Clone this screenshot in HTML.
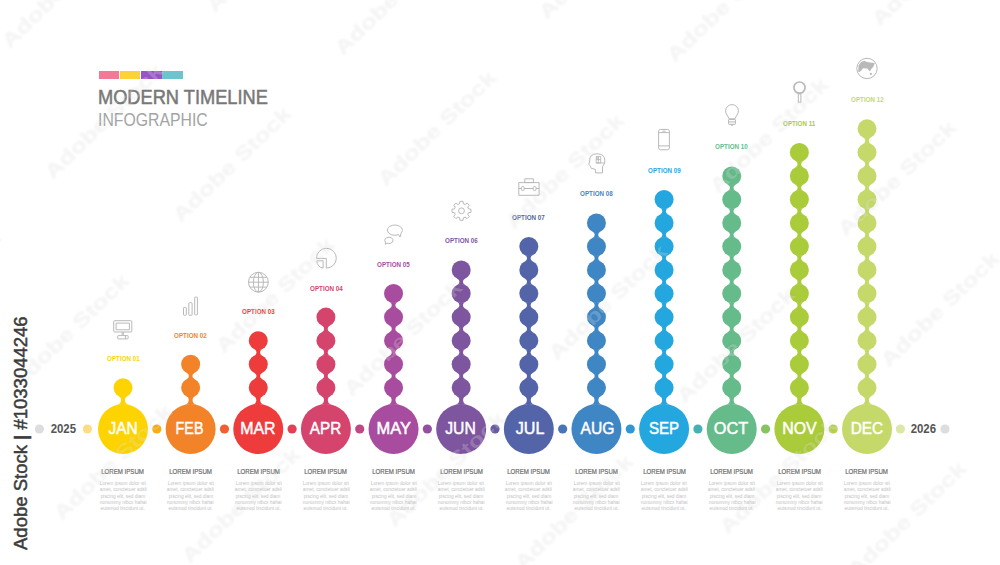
<!DOCTYPE html>
<html><head><meta charset="utf-8">
<style>
html,body{margin:0;padding:0;}
body{width:1000px;height:565px;overflow:hidden;background:#fff;position:relative;font-family:"Liberation Sans",sans-serif;}
svg{position:absolute;left:0;top:0;}
span{display:inline-block;transform-origin:50% 50%;white-space:nowrap;}
.c{position:absolute;width:100px;text-align:center;white-space:nowrap;}
.bar{position:absolute;top:71.3px;height:8px;width:20.2px;}
.t1{position:absolute;left:98px;top:84.6px;font-size:21px;line-height:24px;color:#787878;white-space:nowrap;-webkit-text-stroke:0.55px #787878;}
.t2{position:absolute;left:98px;top:108.5px;font-size:18.5px;line-height:22px;color:#a4a4a4;white-space:nowrap;}
.t1 span,.t2 span{transform-origin:0 50%;}
.mon{top:419px;color:#fff;font-size:17px;line-height:20px;-webkit-text-stroke:0.5px #fff;}
.opt{font-size:7.8px;line-height:10px;font-weight:bold;}
.lh{top:467px;font-size:7.3px;line-height:10px;color:#6a6a6a;-webkit-text-stroke:0.2px #6a6a6a;}
.lp{font-size:5.6px;line-height:6px;height:6px;color:#c2c2c2;}
.yr{position:absolute;top:422px;font-size:12px;line-height:14px;font-weight:bold;color:#555;}
.dw{position:absolute;font-size:20px;line-height:16px;font-weight:bold;white-space:nowrap;letter-spacing:0px;transform-origin:0 15.5px;transform:rotate(-44deg) scaleX(1.27);color:rgba(255,255,255,0.22);text-shadow:0 0 2.2px rgba(0,0,0,0.055);}
.wm{position:absolute;left:12.4px;top:549.8px;transform-origin:0 0;transform:rotate(-90deg) scaleX(1.052);white-space:nowrap;font-size:17.6px;line-height:18px;color:#3c3c3c;-webkit-text-stroke:0.5px #3c3c3c;}
</style></head><body>
<div class="bar" style="left:99.3px;background:#F27A96"></div>
<div class="bar" style="left:120.3px;background:#FDD13A"></div>
<div class="bar" style="left:141.4px;background:#9A54C5"></div>
<div class="bar" style="left:162.4px;background:#6DC4CE"></div>
<div class="t1"><span style="transform:scaleX(0.8680)">MODERN TIMELINE</span></div>
<div class="t2"><span style="transform:scaleX(0.8540)">INFOGRAPHIC</span></div>
<svg width="1000" height="565" viewBox="0 0 1000 565">
<circle cx="39.4" cy="429.0" r="4.6" fill="#DDDDDF"/>
<circle cx="87.4" cy="429.0" r="4.6" fill="#FCDC85"/>
<circle cx="900.4" cy="429.0" r="4.6" fill="#DCE8A8"/>
<circle cx="945" cy="429.0" r="4.6" fill="#DDDDDF"/>
<g fill="#FDD402"><circle cx="123.00" cy="429.0" r="25.0"/><path d="M118.60,396.12A4.56,4.56 0 0 1 117.49,404.61L128.51,404.61A4.56,4.56 0 0 1 127.40,396.12Z"/><circle cx="123.00" cy="387.70" r="9.5"/></g><circle cx="156.82" cy="429.0" r="4.6" fill="#F8AC16"/><g fill="#F28329"><circle cx="190.64" cy="429.0" r="25.0"/><path d="M186.24,396.12A4.56,4.56 0 0 1 185.13,404.61L196.14,404.61A4.56,4.56 0 0 1 195.04,396.12Z"/><circle cx="190.64" cy="387.70" r="9.5"/><circle cx="190.64" cy="364.17" r="9.5"/><path d="M186.89,372.90A3.31,3.31 0 0 1 186.89,378.97L194.39,378.97A3.31,3.31 0 0 1 194.39,372.90Z"/></g><circle cx="224.45" cy="429.0" r="4.6" fill="#F05F32"/><g fill="#EE3B3B"><circle cx="258.27" cy="429.0" r="25.0"/><path d="M253.87,396.12A4.56,4.56 0 0 1 252.77,404.61L263.78,404.61A4.56,4.56 0 0 1 262.67,396.12Z"/><circle cx="258.27" cy="387.70" r="9.5"/><circle cx="258.27" cy="364.17" r="9.5"/><path d="M254.52,372.90A3.31,3.31 0 0 1 254.52,378.97L262.02,378.97A3.31,3.31 0 0 1 262.02,372.90Z"/><circle cx="258.27" cy="340.64" r="9.5"/><path d="M254.52,349.37A3.31,3.31 0 0 1 254.52,355.44L262.02,355.44A3.31,3.31 0 0 1 262.02,349.37Z"/></g><circle cx="292.09" cy="429.0" r="4.6" fill="#E24054"/><g fill="#D5446C"><circle cx="325.91" cy="429.0" r="25.0"/><path d="M321.51,396.12A4.56,4.56 0 0 1 320.40,404.61L331.42,404.61A4.56,4.56 0 0 1 330.31,396.12Z"/><circle cx="325.91" cy="387.70" r="9.5"/><circle cx="325.91" cy="364.17" r="9.5"/><path d="M322.16,372.90A3.31,3.31 0 0 1 322.16,378.97L329.66,378.97A3.31,3.31 0 0 1 329.66,372.90Z"/><circle cx="325.91" cy="340.64" r="9.5"/><path d="M322.16,349.37A3.31,3.31 0 0 1 322.16,355.44L329.66,355.44A3.31,3.31 0 0 1 329.66,349.37Z"/><circle cx="325.91" cy="317.11" r="9.5"/><path d="M322.16,325.84A3.31,3.31 0 0 1 322.16,331.91L329.66,331.91A3.31,3.31 0 0 1 329.66,325.84Z"/></g><circle cx="359.73" cy="429.0" r="4.6" fill="#BE4886"/><g fill="#A84C9F"><circle cx="393.55" cy="429.0" r="25.0"/><path d="M389.15,396.12A4.56,4.56 0 0 1 388.04,404.61L399.05,404.61A4.56,4.56 0 0 1 397.95,396.12Z"/><circle cx="393.55" cy="387.70" r="9.5"/><circle cx="393.55" cy="364.17" r="9.5"/><path d="M389.80,372.90A3.31,3.31 0 0 1 389.80,378.97L397.30,378.97A3.31,3.31 0 0 1 397.30,372.90Z"/><circle cx="393.55" cy="340.64" r="9.5"/><path d="M389.80,349.37A3.31,3.31 0 0 1 389.80,355.44L397.30,355.44A3.31,3.31 0 0 1 397.30,349.37Z"/><circle cx="393.55" cy="317.11" r="9.5"/><path d="M389.80,325.84A3.31,3.31 0 0 1 389.80,331.91L397.30,331.91A3.31,3.31 0 0 1 397.30,325.84Z"/><circle cx="393.55" cy="293.58" r="9.5"/><path d="M389.80,302.31A3.31,3.31 0 0 1 389.80,308.38L397.30,308.38A3.31,3.31 0 0 1 397.30,302.31Z"/></g><circle cx="427.36" cy="429.0" r="4.6" fill="#93509F"/><g fill="#7E559F"><circle cx="461.18" cy="429.0" r="25.0"/><path d="M456.78,396.12A4.56,4.56 0 0 1 455.67,404.61L466.69,404.61A4.56,4.56 0 0 1 465.58,396.12Z"/><circle cx="461.18" cy="387.70" r="9.5"/><circle cx="461.18" cy="364.17" r="9.5"/><path d="M457.43,372.90A3.31,3.31 0 0 1 457.43,378.97L464.93,378.97A3.31,3.31 0 0 1 464.93,372.90Z"/><circle cx="461.18" cy="340.64" r="9.5"/><path d="M457.43,349.37A3.31,3.31 0 0 1 457.43,355.44L464.93,355.44A3.31,3.31 0 0 1 464.93,349.37Z"/><circle cx="461.18" cy="317.11" r="9.5"/><path d="M457.43,325.84A3.31,3.31 0 0 1 457.43,331.91L464.93,331.91A3.31,3.31 0 0 1 464.93,325.84Z"/><circle cx="461.18" cy="293.58" r="9.5"/><path d="M457.43,302.31A3.31,3.31 0 0 1 457.43,308.38L464.93,308.38A3.31,3.31 0 0 1 464.93,302.31Z"/><circle cx="461.18" cy="270.05" r="9.5"/><path d="M457.43,278.78A3.31,3.31 0 0 1 457.43,284.85L464.93,284.85A3.31,3.31 0 0 1 464.93,278.78Z"/></g><circle cx="495.00" cy="429.0" r="4.6" fill="#685CA4"/><g fill="#5364A9"><circle cx="528.82" cy="429.0" r="25.0"/><path d="M524.42,396.12A4.56,4.56 0 0 1 523.31,404.61L534.33,404.61A4.56,4.56 0 0 1 533.22,396.12Z"/><circle cx="528.82" cy="387.70" r="9.5"/><circle cx="528.82" cy="364.17" r="9.5"/><path d="M525.07,372.90A3.31,3.31 0 0 1 525.07,378.97L532.57,378.97A3.31,3.31 0 0 1 532.57,372.90Z"/><circle cx="528.82" cy="340.64" r="9.5"/><path d="M525.07,349.37A3.31,3.31 0 0 1 525.07,355.44L532.57,355.44A3.31,3.31 0 0 1 532.57,349.37Z"/><circle cx="528.82" cy="317.11" r="9.5"/><path d="M525.07,325.84A3.31,3.31 0 0 1 525.07,331.91L532.57,331.91A3.31,3.31 0 0 1 532.57,325.84Z"/><circle cx="528.82" cy="293.58" r="9.5"/><path d="M525.07,302.31A3.31,3.31 0 0 1 525.07,308.38L532.57,308.38A3.31,3.31 0 0 1 532.57,302.31Z"/><circle cx="528.82" cy="270.05" r="9.5"/><path d="M525.07,278.78A3.31,3.31 0 0 1 525.07,284.85L532.57,284.85A3.31,3.31 0 0 1 532.57,278.78Z"/><circle cx="528.82" cy="246.52" r="9.5"/><path d="M525.07,255.25A3.31,3.31 0 0 1 525.07,261.32L532.57,261.32A3.31,3.31 0 0 1 532.57,255.25Z"/></g><circle cx="562.64" cy="429.0" r="4.6" fill="#4975B7"/><g fill="#3F86C5"><circle cx="596.45" cy="429.0" r="25.0"/><path d="M592.05,396.12A4.56,4.56 0 0 1 590.95,404.61L601.96,404.61A4.56,4.56 0 0 1 600.85,396.12Z"/><circle cx="596.45" cy="387.70" r="9.5"/><circle cx="596.45" cy="364.17" r="9.5"/><path d="M592.70,372.90A3.31,3.31 0 0 1 592.70,378.97L600.20,378.97A3.31,3.31 0 0 1 600.20,372.90Z"/><circle cx="596.45" cy="340.64" r="9.5"/><path d="M592.70,349.37A3.31,3.31 0 0 1 592.70,355.44L600.20,355.44A3.31,3.31 0 0 1 600.20,349.37Z"/><circle cx="596.45" cy="317.11" r="9.5"/><path d="M592.70,325.84A3.31,3.31 0 0 1 592.70,331.91L600.20,331.91A3.31,3.31 0 0 1 600.20,325.84Z"/><circle cx="596.45" cy="293.58" r="9.5"/><path d="M592.70,302.31A3.31,3.31 0 0 1 592.70,308.38L600.20,308.38A3.31,3.31 0 0 1 600.20,302.31Z"/><circle cx="596.45" cy="270.05" r="9.5"/><path d="M592.70,278.78A3.31,3.31 0 0 1 592.70,284.85L600.20,284.85A3.31,3.31 0 0 1 600.20,278.78Z"/><circle cx="596.45" cy="246.52" r="9.5"/><path d="M592.70,255.25A3.31,3.31 0 0 1 592.70,261.32L600.20,261.32A3.31,3.31 0 0 1 600.20,255.25Z"/><circle cx="596.45" cy="222.99" r="9.5"/><path d="M592.70,231.72A3.31,3.31 0 0 1 592.70,237.79L600.20,237.79A3.31,3.31 0 0 1 600.20,231.72Z"/></g><circle cx="630.27" cy="429.0" r="4.6" fill="#3296D2"/><g fill="#24A7DF"><circle cx="664.09" cy="429.0" r="25.0"/><path d="M659.69,396.12A4.56,4.56 0 0 1 658.58,404.61L669.60,404.61A4.56,4.56 0 0 1 668.49,396.12Z"/><circle cx="664.09" cy="387.70" r="9.5"/><circle cx="664.09" cy="364.17" r="9.5"/><path d="M660.34,372.90A3.31,3.31 0 0 1 660.34,378.97L667.84,378.97A3.31,3.31 0 0 1 667.84,372.90Z"/><circle cx="664.09" cy="340.64" r="9.5"/><path d="M660.34,349.37A3.31,3.31 0 0 1 660.34,355.44L667.84,355.44A3.31,3.31 0 0 1 667.84,349.37Z"/><circle cx="664.09" cy="317.11" r="9.5"/><path d="M660.34,325.84A3.31,3.31 0 0 1 660.34,331.91L667.84,331.91A3.31,3.31 0 0 1 667.84,325.84Z"/><circle cx="664.09" cy="293.58" r="9.5"/><path d="M660.34,302.31A3.31,3.31 0 0 1 660.34,308.38L667.84,308.38A3.31,3.31 0 0 1 667.84,302.31Z"/><circle cx="664.09" cy="270.05" r="9.5"/><path d="M660.34,278.78A3.31,3.31 0 0 1 660.34,284.85L667.84,284.85A3.31,3.31 0 0 1 667.84,278.78Z"/><circle cx="664.09" cy="246.52" r="9.5"/><path d="M660.34,255.25A3.31,3.31 0 0 1 660.34,261.32L667.84,261.32A3.31,3.31 0 0 1 667.84,255.25Z"/><circle cx="664.09" cy="222.99" r="9.5"/><path d="M660.34,231.72A3.31,3.31 0 0 1 660.34,237.79L667.84,237.79A3.31,3.31 0 0 1 667.84,231.72Z"/><circle cx="664.09" cy="199.46" r="9.5"/><path d="M660.34,208.19A3.31,3.31 0 0 1 660.34,214.26L667.84,214.26A3.31,3.31 0 0 1 667.84,208.19Z"/></g><circle cx="697.91" cy="429.0" r="4.6" fill="#45B1B5"/><g fill="#66BB8B"><circle cx="731.73" cy="429.0" r="25.0"/><path d="M727.33,396.12A4.56,4.56 0 0 1 726.22,404.61L737.23,404.61A4.56,4.56 0 0 1 736.13,396.12Z"/><circle cx="731.73" cy="387.70" r="9.5"/><circle cx="731.73" cy="364.17" r="9.5"/><path d="M727.98,372.90A3.31,3.31 0 0 1 727.98,378.97L735.48,378.97A3.31,3.31 0 0 1 735.48,372.90Z"/><circle cx="731.73" cy="340.64" r="9.5"/><path d="M727.98,349.37A3.31,3.31 0 0 1 727.98,355.44L735.48,355.44A3.31,3.31 0 0 1 735.48,349.37Z"/><circle cx="731.73" cy="317.11" r="9.5"/><path d="M727.98,325.84A3.31,3.31 0 0 1 727.98,331.91L735.48,331.91A3.31,3.31 0 0 1 735.48,325.84Z"/><circle cx="731.73" cy="293.58" r="9.5"/><path d="M727.98,302.31A3.31,3.31 0 0 1 727.98,308.38L735.48,308.38A3.31,3.31 0 0 1 735.48,302.31Z"/><circle cx="731.73" cy="270.05" r="9.5"/><path d="M727.98,278.78A3.31,3.31 0 0 1 727.98,284.85L735.48,284.85A3.31,3.31 0 0 1 735.48,278.78Z"/><circle cx="731.73" cy="246.52" r="9.5"/><path d="M727.98,255.25A3.31,3.31 0 0 1 727.98,261.32L735.48,261.32A3.31,3.31 0 0 1 735.48,255.25Z"/><circle cx="731.73" cy="222.99" r="9.5"/><path d="M727.98,231.72A3.31,3.31 0 0 1 727.98,237.79L735.48,237.79A3.31,3.31 0 0 1 735.48,231.72Z"/><circle cx="731.73" cy="199.46" r="9.5"/><path d="M727.98,208.19A3.31,3.31 0 0 1 727.98,214.26L735.48,214.26A3.31,3.31 0 0 1 735.48,208.19Z"/><circle cx="731.73" cy="175.93" r="9.5"/><path d="M727.98,184.66A3.31,3.31 0 0 1 727.98,190.73L735.48,190.73A3.31,3.31 0 0 1 735.48,184.66Z"/></g><circle cx="765.55" cy="429.0" r="4.6" fill="#88C362"/><g fill="#AACB3A"><circle cx="799.36" cy="429.0" r="25.0"/><path d="M794.96,396.12A4.56,4.56 0 0 1 793.86,404.61L804.87,404.61A4.56,4.56 0 0 1 803.76,396.12Z"/><circle cx="799.36" cy="387.70" r="9.5"/><circle cx="799.36" cy="364.17" r="9.5"/><path d="M795.61,372.90A3.31,3.31 0 0 1 795.61,378.97L803.11,378.97A3.31,3.31 0 0 1 803.11,372.90Z"/><circle cx="799.36" cy="340.64" r="9.5"/><path d="M795.61,349.37A3.31,3.31 0 0 1 795.61,355.44L803.11,355.44A3.31,3.31 0 0 1 803.11,349.37Z"/><circle cx="799.36" cy="317.11" r="9.5"/><path d="M795.61,325.84A3.31,3.31 0 0 1 795.61,331.91L803.11,331.91A3.31,3.31 0 0 1 803.11,325.84Z"/><circle cx="799.36" cy="293.58" r="9.5"/><path d="M795.61,302.31A3.31,3.31 0 0 1 795.61,308.38L803.11,308.38A3.31,3.31 0 0 1 803.11,302.31Z"/><circle cx="799.36" cy="270.05" r="9.5"/><path d="M795.61,278.78A3.31,3.31 0 0 1 795.61,284.85L803.11,284.85A3.31,3.31 0 0 1 803.11,278.78Z"/><circle cx="799.36" cy="246.52" r="9.5"/><path d="M795.61,255.25A3.31,3.31 0 0 1 795.61,261.32L803.11,261.32A3.31,3.31 0 0 1 803.11,255.25Z"/><circle cx="799.36" cy="222.99" r="9.5"/><path d="M795.61,231.72A3.31,3.31 0 0 1 795.61,237.79L803.11,237.79A3.31,3.31 0 0 1 803.11,231.72Z"/><circle cx="799.36" cy="199.46" r="9.5"/><path d="M795.61,208.19A3.31,3.31 0 0 1 795.61,214.26L803.11,214.26A3.31,3.31 0 0 1 803.11,208.19Z"/><circle cx="799.36" cy="175.93" r="9.5"/><path d="M795.61,184.66A3.31,3.31 0 0 1 795.61,190.73L803.11,190.73A3.31,3.31 0 0 1 803.11,184.66Z"/><circle cx="799.36" cy="152.40" r="9.5"/><path d="M795.61,161.13A3.31,3.31 0 0 1 795.61,167.20L803.11,167.20A3.31,3.31 0 0 1 803.11,161.13Z"/></g><circle cx="833.18" cy="429.0" r="4.6" fill="#B7D252"/><g fill="#C4D96A"><circle cx="867.00" cy="429.0" r="25.0"/><path d="M862.60,396.12A4.56,4.56 0 0 1 861.49,404.61L872.51,404.61A4.56,4.56 0 0 1 871.40,396.12Z"/><circle cx="867.00" cy="387.70" r="9.5"/><circle cx="867.00" cy="364.17" r="9.5"/><path d="M863.25,372.90A3.31,3.31 0 0 1 863.25,378.97L870.75,378.97A3.31,3.31 0 0 1 870.75,372.90Z"/><circle cx="867.00" cy="340.64" r="9.5"/><path d="M863.25,349.37A3.31,3.31 0 0 1 863.25,355.44L870.75,355.44A3.31,3.31 0 0 1 870.75,349.37Z"/><circle cx="867.00" cy="317.11" r="9.5"/><path d="M863.25,325.84A3.31,3.31 0 0 1 863.25,331.91L870.75,331.91A3.31,3.31 0 0 1 870.75,325.84Z"/><circle cx="867.00" cy="293.58" r="9.5"/><path d="M863.25,302.31A3.31,3.31 0 0 1 863.25,308.38L870.75,308.38A3.31,3.31 0 0 1 870.75,302.31Z"/><circle cx="867.00" cy="270.05" r="9.5"/><path d="M863.25,278.78A3.31,3.31 0 0 1 863.25,284.85L870.75,284.85A3.31,3.31 0 0 1 870.75,278.78Z"/><circle cx="867.00" cy="246.52" r="9.5"/><path d="M863.25,255.25A3.31,3.31 0 0 1 863.25,261.32L870.75,261.32A3.31,3.31 0 0 1 870.75,255.25Z"/><circle cx="867.00" cy="222.99" r="9.5"/><path d="M863.25,231.72A3.31,3.31 0 0 1 863.25,237.79L870.75,237.79A3.31,3.31 0 0 1 870.75,231.72Z"/><circle cx="867.00" cy="199.46" r="9.5"/><path d="M863.25,208.19A3.31,3.31 0 0 1 863.25,214.26L870.75,214.26A3.31,3.31 0 0 1 870.75,208.19Z"/><circle cx="867.00" cy="175.93" r="9.5"/><path d="M863.25,184.66A3.31,3.31 0 0 1 863.25,190.73L870.75,190.73A3.31,3.31 0 0 1 870.75,184.66Z"/><circle cx="867.00" cy="152.40" r="9.5"/><path d="M863.25,161.13A3.31,3.31 0 0 1 863.25,167.20L870.75,167.20A3.31,3.31 0 0 1 870.75,161.13Z"/><circle cx="867.00" cy="128.87" r="9.5"/><path d="M863.25,137.60A3.31,3.31 0 0 1 863.25,143.67L870.75,143.67A3.31,3.31 0 0 1 870.75,137.60Z"/></g>
<g fill="none" stroke="#B9B9B9" stroke-width="1" stroke-linejoin="round">
<rect x="113.7" y="320.7" width="18.1" height="11.3" rx="1"/>
<rect x="116.1" y="323.1" width="13.3" height="6.7"/>
<path d="M122.2,332v3.1 M123.3,332v3.1"/>
<rect x="117.7" y="335.6" width="10.4" height="3.3" rx="0.5"/>
<path d="M125.5,335.6v3.3"/>
<rect x="183.5" y="307.5" width="2.8" height="7.8" rx="0.6"/>
<rect x="188.8" y="302.7" width="3.3" height="12.6" rx="0.6"/>
<rect x="194.7" y="297.1" width="2.7" height="17.8" rx="0.6"/>
<circle cx="258.4" cy="282.2" r="9.9"/>
<ellipse cx="258.4" cy="282.2" rx="5" ry="9.9"/>
<path d="M258.4,272.3v19.8 M248.5,282.2h19.8 M250,277.3h16.8 M250,287.1h16.8"/>
<path d="M316.5,258.4 A9.9,9.9 0 1 1 326.3,268.1 V258.4 Z"/>
<path d="M316.8,260.8 H323.1 V268.1 A7.3,7.3 0 0 1 316.8,260.8 Z"/>
<path d="M398.55,234.6 A7.5,5.1 0 1 1 401.3,232.75 L400,237 Z"/>
<path d="M386.85,243.12 A4.1,3.2 0 1 0 385.35,241.95 L385.4,244.4 Z"/>
<path d=""/>
<rect x="518.8" y="182.6" width="20.3" height="12.7"/>
<rect x="524.8" y="178.8" width="8.6" height="3.8"/>
<path d="M518.8,188.5h2.6 M524.2,188.5h9.1 M536.0,188.5h3.1"/>
<rect x="521.4" y="186.4" width="2.8" height="4.2" rx="1.3"/>
<rect x="533.2" y="186.4" width="2.8" height="4.2" rx="1.3"/>
<path d="M595.4,172.9 V169.4 L591.2,168.2 Q590.6,167.6 590.6,166.4 L588.8,164.3 L589.7,161 Q589.4,153.8 597.1,153.8 Q604.9,153.8 604.9,160.9 Q604.9,164 602.5,166.7 V172.9 Z"/><path d="M596.2,156.6 h4.5 v6.4 h-4.5 Z M596.2,159.6 h4.5 M598.4,156.6 v6.4 M596.2,163 h8.2" stroke-width="0.9"/>
<rect x="658.6" y="129.4" width="10.8" height="20.4" rx="2"/>
<path d="M658.6,132.6h10.8 M658.6,145.9h10.8 M662.5,131.1h3"/>
<path d="M729,118.8 Q728.2,116.5 727,115 A6.4,6.4 0 1 1 737,115 Q735.8,116.5 735,118.8 Z"/>
<rect x="728.6" y="119.5" width="6.8" height="4.8" rx="0.5"/>
<path d="M728.6,121.9h6.8 M730.2,124.3 Q732,126.8 733.8,124.3"/>
<circle cx="799.5" cy="87.6" r="5.6" stroke-width="1.7"/>
<rect x="798.3" y="93.9" width="2.6" height="8.4"/>
<circle cx="867" cy="68.45" r="10.2"/>
</g>
<g fill="#B9B9B9">
<path d="M858.6,65.3 L861.1,62.1 L864.3,60.8 L866.2,61.8 L870,62.4 L874.8,63.1 L873.5,66.6 L871.3,69.1 L870,71.2 L868.6,70.2 L867.4,68.4 L863,68.3 L861,70.8 L859.2,72.3 L858.2,71.5 Z"/>
<circle cx="870.9" cy="73.8" r="1.1"/>
<rect x="596.2" y="156.6" width="2.2" height="3" fill="#B9B9B9" opacity="0.6"/>
</g>
<path d="M468.55,208.92 L470.98,209.27 L470.98,212.33 L468.55,212.68 L467.82,214.46 L469.28,216.42 L467.12,218.58 L465.16,217.12 L463.38,217.85 L463.03,220.28 L459.97,220.28 L459.62,217.85 L457.84,217.12 L455.88,218.58 L453.72,216.42 L455.18,214.46 L454.45,212.68 L452.02,212.33 L452.02,209.27 L454.45,208.92 L455.18,207.14 L453.72,205.18 L455.88,203.02 L457.84,204.48 L459.62,203.75 L459.97,201.32 L463.03,201.32 L463.38,203.75 L465.16,204.48 L467.12,203.02 L469.28,205.18 L467.82,207.14Z" fill="none" stroke="#B9B9B9" stroke-width="1" stroke-linejoin="round"/><circle cx="461.5" cy="210.8" r="2.9" fill="none" stroke="#B9B9B9" stroke-width="1"/>
</svg>
<div class="yr" style="left:50.0px"><span style="transform:scaleX(0.95)">2025</span></div>
<div class="yr" style="left:910px"><span style="transform:scaleX(0.95)">2026</span></div>
<div class="c mon" style="left:73.50px"><span style="transform:scaleX(0.9126)">JAN</span></div><div class="c opt" style="left:73.00px;top:354.10px;color:#FDD402"><span style="transform:scaleX(0.8000)">OPTION 01</span></div><div class="c lh" style="left:73.00px"><span style="transform:scaleX(0.8350)">LOREM IPSUM</span></div><div class="c lp" style="left:73.00px;top:480.10px"><span style="transform:scaleX(0.8600)">Lorem ipsum dolor sit</span></div><div class="c lp" style="left:73.00px;top:486.32px"><span style="transform:scaleX(0.8600)">amet, conctetuer adsli</span></div><div class="c lp" style="left:73.00px;top:492.54px"><span style="transform:scaleX(0.8600)">piscing elit, sed diam</span></div><div class="c lp" style="left:73.00px;top:498.76px"><span style="transform:scaleX(0.8600)">nonummy nibcx hahai</span></div><div class="c lp" style="left:73.00px;top:504.98px"><span style="transform:scaleX(0.8600)">euismod tincidunt ut.</span></div><div class="c mon" style="left:139.64px"><span style="transform:scaleX(0.8413)">FEB</span></div><div class="c opt" style="left:140.64px;top:330.57px;color:#F28329"><span style="transform:scaleX(0.8000)">OPTION 02</span></div><div class="c lh" style="left:140.64px"><span style="transform:scaleX(0.8350)">LOREM IPSUM</span></div><div class="c lp" style="left:140.64px;top:480.10px"><span style="transform:scaleX(0.8600)">Lorem ipsum dolor sit</span></div><div class="c lp" style="left:140.64px;top:486.32px"><span style="transform:scaleX(0.8600)">amet, conctetuer adsli</span></div><div class="c lp" style="left:140.64px;top:492.54px"><span style="transform:scaleX(0.8600)">piscing elit, sed diam</span></div><div class="c lp" style="left:140.64px;top:498.76px"><span style="transform:scaleX(0.8600)">nonummy nibcx hahai</span></div><div class="c lp" style="left:140.64px;top:504.98px"><span style="transform:scaleX(0.8600)">euismod tincidunt ut.</span></div><div class="c mon" style="left:207.67px"><span style="transform:scaleX(0.9370)">MAR</span></div><div class="c opt" style="left:208.27px;top:307.04px;color:#EE3B3B"><span style="transform:scaleX(0.8000)">OPTION 03</span></div><div class="c lh" style="left:208.27px"><span style="transform:scaleX(0.8350)">LOREM IPSUM</span></div><div class="c lp" style="left:208.27px;top:480.10px"><span style="transform:scaleX(0.8600)">Lorem ipsum dolor sit</span></div><div class="c lp" style="left:208.27px;top:486.32px"><span style="transform:scaleX(0.8600)">amet, conctetuer adsli</span></div><div class="c lp" style="left:208.27px;top:492.54px"><span style="transform:scaleX(0.8600)">piscing elit, sed diam</span></div><div class="c lp" style="left:208.27px;top:498.76px"><span style="transform:scaleX(0.8600)">nonummy nibcx hahai</span></div><div class="c lp" style="left:208.27px;top:504.98px"><span style="transform:scaleX(0.8600)">euismod tincidunt ut.</span></div><div class="c mon" style="left:275.21px"><span style="transform:scaleX(0.8977)">APR</span></div><div class="c opt" style="left:275.91px;top:283.51px;color:#D5446C"><span style="transform:scaleX(0.8000)">OPTION 04</span></div><div class="c lh" style="left:275.91px"><span style="transform:scaleX(0.8350)">LOREM IPSUM</span></div><div class="c lp" style="left:275.91px;top:480.10px"><span style="transform:scaleX(0.8600)">Lorem ipsum dolor sit</span></div><div class="c lp" style="left:275.91px;top:486.32px"><span style="transform:scaleX(0.8600)">amet, conctetuer adsli</span></div><div class="c lp" style="left:275.91px;top:492.54px"><span style="transform:scaleX(0.8600)">piscing elit, sed diam</span></div><div class="c lp" style="left:275.91px;top:498.76px"><span style="transform:scaleX(0.8600)">nonummy nibcx hahai</span></div><div class="c lp" style="left:275.91px;top:504.98px"><span style="transform:scaleX(0.8600)">euismod tincidunt ut.</span></div><div class="c mon" style="left:343.95px"><span style="transform:scaleX(0.9682)">MAY</span></div><div class="c opt" style="left:343.55px;top:259.98px;color:#A84C9F"><span style="transform:scaleX(0.8000)">OPTION 05</span></div><div class="c lh" style="left:343.55px"><span style="transform:scaleX(0.8350)">LOREM IPSUM</span></div><div class="c lp" style="left:343.55px;top:480.10px"><span style="transform:scaleX(0.8600)">Lorem ipsum dolor sit</span></div><div class="c lp" style="left:343.55px;top:486.32px"><span style="transform:scaleX(0.8600)">amet, conctetuer adsli</span></div><div class="c lp" style="left:343.55px;top:492.54px"><span style="transform:scaleX(0.8600)">piscing elit, sed diam</span></div><div class="c lp" style="left:343.55px;top:498.76px"><span style="transform:scaleX(0.8600)">nonummy nibcx hahai</span></div><div class="c lp" style="left:343.55px;top:504.98px"><span style="transform:scaleX(0.8600)">euismod tincidunt ut.</span></div><div class="c mon" style="left:410.18px"><span style="transform:scaleX(0.9241)">JUN</span></div><div class="c opt" style="left:411.18px;top:236.45px;color:#7E559F"><span style="transform:scaleX(0.8000)">OPTION 06</span></div><div class="c lh" style="left:411.18px"><span style="transform:scaleX(0.8350)">LOREM IPSUM</span></div><div class="c lp" style="left:411.18px;top:480.10px"><span style="transform:scaleX(0.8600)">Lorem ipsum dolor sit</span></div><div class="c lp" style="left:411.18px;top:486.32px"><span style="transform:scaleX(0.8600)">amet, conctetuer adsli</span></div><div class="c lp" style="left:411.18px;top:492.54px"><span style="transform:scaleX(0.8600)">piscing elit, sed diam</span></div><div class="c lp" style="left:411.18px;top:498.76px"><span style="transform:scaleX(0.8600)">nonummy nibcx hahai</span></div><div class="c lp" style="left:411.18px;top:504.98px"><span style="transform:scaleX(0.8600)">euismod tincidunt ut.</span></div><div class="c mon" style="left:480.02px"><span style="transform:scaleX(0.9477)">JUL</span></div><div class="c opt" style="left:478.82px;top:212.92px;color:#5364A9"><span style="transform:scaleX(0.8000)">OPTION 07</span></div><div class="c lh" style="left:478.82px"><span style="transform:scaleX(0.8350)">LOREM IPSUM</span></div><div class="c lp" style="left:478.82px;top:480.10px"><span style="transform:scaleX(0.8600)">Lorem ipsum dolor sit</span></div><div class="c lp" style="left:478.82px;top:486.32px"><span style="transform:scaleX(0.8600)">amet, conctetuer adsli</span></div><div class="c lp" style="left:478.82px;top:492.54px"><span style="transform:scaleX(0.8600)">piscing elit, sed diam</span></div><div class="c lp" style="left:478.82px;top:498.76px"><span style="transform:scaleX(0.8600)">nonummy nibcx hahai</span></div><div class="c lp" style="left:478.82px;top:504.98px"><span style="transform:scaleX(0.8600)">euismod tincidunt ut.</span></div><div class="c mon" style="left:546.95px"><span style="transform:scaleX(0.9198)">AUG</span></div><div class="c opt" style="left:546.45px;top:189.39px;color:#3F86C5"><span style="transform:scaleX(0.8000)">OPTION 08</span></div><div class="c lh" style="left:546.45px"><span style="transform:scaleX(0.8350)">LOREM IPSUM</span></div><div class="c lp" style="left:546.45px;top:480.10px"><span style="transform:scaleX(0.8600)">Lorem ipsum dolor sit</span></div><div class="c lp" style="left:546.45px;top:486.32px"><span style="transform:scaleX(0.8600)">amet, conctetuer adsli</span></div><div class="c lp" style="left:546.45px;top:492.54px"><span style="transform:scaleX(0.8600)">piscing elit, sed diam</span></div><div class="c lp" style="left:546.45px;top:498.76px"><span style="transform:scaleX(0.8600)">nonummy nibcx hahai</span></div><div class="c lp" style="left:546.45px;top:504.98px"><span style="transform:scaleX(0.8600)">euismod tincidunt ut.</span></div><div class="c mon" style="left:614.19px"><span style="transform:scaleX(0.8865)">SEP</span></div><div class="c opt" style="left:614.09px;top:165.86px;color:#24A7DF"><span style="transform:scaleX(0.8000)">OPTION 09</span></div><div class="c lh" style="left:614.09px"><span style="transform:scaleX(0.8350)">LOREM IPSUM</span></div><div class="c lp" style="left:614.09px;top:480.10px"><span style="transform:scaleX(0.8600)">Lorem ipsum dolor sit</span></div><div class="c lp" style="left:614.09px;top:486.32px"><span style="transform:scaleX(0.8600)">amet, conctetuer adsli</span></div><div class="c lp" style="left:614.09px;top:492.54px"><span style="transform:scaleX(0.8600)">piscing elit, sed diam</span></div><div class="c lp" style="left:614.09px;top:498.76px"><span style="transform:scaleX(0.8600)">nonummy nibcx hahai</span></div><div class="c lp" style="left:614.09px;top:504.98px"><span style="transform:scaleX(0.8600)">euismod tincidunt ut.</span></div><div class="c mon" style="left:681.23px"><span style="transform:scaleX(0.9563)">OCT</span></div><div class="c opt" style="left:681.73px;top:142.33px;color:#66BB8B"><span style="transform:scaleX(0.8000)">OPTION 10</span></div><div class="c lh" style="left:681.73px"><span style="transform:scaleX(0.8350)">LOREM IPSUM</span></div><div class="c lp" style="left:681.73px;top:480.10px"><span style="transform:scaleX(0.8600)">Lorem ipsum dolor sit</span></div><div class="c lp" style="left:681.73px;top:486.32px"><span style="transform:scaleX(0.8600)">amet, conctetuer adsli</span></div><div class="c lp" style="left:681.73px;top:492.54px"><span style="transform:scaleX(0.8600)">piscing elit, sed diam</span></div><div class="c lp" style="left:681.73px;top:498.76px"><span style="transform:scaleX(0.8600)">nonummy nibcx hahai</span></div><div class="c lp" style="left:681.73px;top:504.98px"><span style="transform:scaleX(0.8600)">euismod tincidunt ut.</span></div><div class="c mon" style="left:749.76px"><span style="transform:scaleX(0.9370)">NOV</span></div><div class="c opt" style="left:749.36px;top:118.80px;color:#AACB3A"><span style="transform:scaleX(0.8000)">OPTION 11</span></div><div class="c lh" style="left:749.36px"><span style="transform:scaleX(0.8350)">LOREM IPSUM</span></div><div class="c lp" style="left:749.36px;top:480.10px"><span style="transform:scaleX(0.8600)">Lorem ipsum dolor sit</span></div><div class="c lp" style="left:749.36px;top:486.32px"><span style="transform:scaleX(0.8600)">amet, conctetuer adsli</span></div><div class="c lp" style="left:749.36px;top:492.54px"><span style="transform:scaleX(0.8600)">piscing elit, sed diam</span></div><div class="c lp" style="left:749.36px;top:498.76px"><span style="transform:scaleX(0.8600)">nonummy nibcx hahai</span></div><div class="c lp" style="left:749.36px;top:504.98px"><span style="transform:scaleX(0.8600)">euismod tincidunt ut.</span></div><div class="c mon" style="left:816.80px"><span style="transform:scaleX(0.9036)">DEC</span></div><div class="c opt" style="left:817.00px;top:95.27px;color:#C4D96A"><span style="transform:scaleX(0.8000)">OPTION 12</span></div><div class="c lh" style="left:817.00px"><span style="transform:scaleX(0.8350)">LOREM IPSUM</span></div><div class="c lp" style="left:817.00px;top:480.10px"><span style="transform:scaleX(0.8600)">Lorem ipsum dolor sit</span></div><div class="c lp" style="left:817.00px;top:486.32px"><span style="transform:scaleX(0.8600)">amet, conctetuer adsli</span></div><div class="c lp" style="left:817.00px;top:492.54px"><span style="transform:scaleX(0.8600)">piscing elit, sed diam</span></div><div class="c lp" style="left:817.00px;top:498.76px"><span style="transform:scaleX(0.8600)">nonummy nibcx hahai</span></div><div class="c lp" style="left:817.00px;top:504.98px"><span style="transform:scaleX(0.8600)">euismod tincidunt ut.</span></div>
<div class="dw" style="left:-99.5px;top:673.5px">Adobe Stock</div><div class="dw" style="left:-108.8px;top:332.3px">Adobe Stock</div><div class="dw" style="left:19.2px;top:375.3px">Adobe Stock</div><div class="dw" style="left:62.2px;top:506.3px">Adobe Stock</div><div class="dw" style="left:190.2px;top:549.3px">Adobe Stock</div><div class="dw" style="left:-118.1px;top:-8.9px">Adobe Stock</div><div class="dw" style="left:9.9px;top:34.1px">Adobe Stock</div><div class="dw" style="left:52.9px;top:165.1px">Adobe Stock</div><div class="dw" style="left:180.9px;top:208.1px">Adobe Stock</div><div class="dw" style="left:223.9px;top:339.1px">Adobe Stock</div><div class="dw" style="left:351.9px;top:382.1px">Adobe Stock</div><div class="dw" style="left:394.9px;top:513.1px">Adobe Stock</div><div class="dw" style="left:522.9px;top:556.1px">Adobe Stock</div><div class="dw" style="left:214.6px;top:-2.1px">Adobe Stock</div><div class="dw" style="left:342.6px;top:40.9px">Adobe Stock</div><div class="dw" style="left:385.6px;top:171.9px">Adobe Stock</div><div class="dw" style="left:513.6px;top:214.9px">Adobe Stock</div><div class="dw" style="left:556.6px;top:345.9px">Adobe Stock</div><div class="dw" style="left:684.6px;top:388.9px">Adobe Stock</div><div class="dw" style="left:727.6px;top:519.9px">Adobe Stock</div><div class="dw" style="left:855.6px;top:562.9px">Adobe Stock</div><div class="dw" style="left:547.3px;top:4.7px">Adobe Stock</div><div class="dw" style="left:675.3px;top:47.7px">Adobe Stock</div><div class="dw" style="left:718.3px;top:178.7px">Adobe Stock</div><div class="dw" style="left:846.3px;top:221.7px">Adobe Stock</div><div class="dw" style="left:889.3px;top:352.7px">Adobe Stock</div><div class="dw" style="left:880.0px;top:11.5px">Adobe Stock</div><div class="dw" style="left:1008.0px;top:54.5px">Adobe Stock</div>
<div class="wm">Adobe Stock <b>|</b> #1033044246</div>
</body></html>
